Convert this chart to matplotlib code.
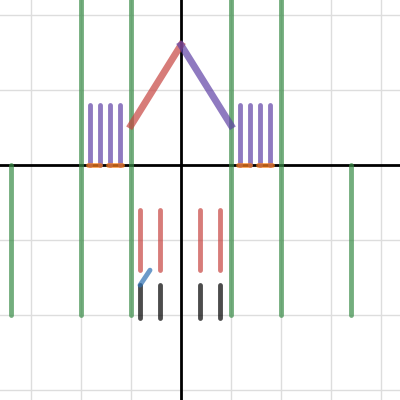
import matplotlib
matplotlib.use("Agg")
import matplotlib.pyplot as plt

green_x = [-2, -1, 1, 2, -3.4, 3.4]
green_y0 = [-2, -2, -2, -2, -2, -2]
green_y1 = [2.3, 2.3, 2.3, 2.3, 0, 0]
roof_red = ([-1, 0], [0.53, 1.6])
roof_purple = ([0, 1], [1.6, 0.53])
purple_x = [-1.82, -1.62, -1.42, -1.22, 1.18, 1.38, 1.58, 1.78]
purple_top = 0.8
orange_segs = [(-1.86, -1.62), (-1.46, -1.18), (1.14, 1.38), (1.54, 1.82)]
red_x = [-0.82, -0.42, 0.38, 0.78]
red_y = (-0.6, -1.4)
black_y = (-1.6, -2.04)
blue = ([-0.82, -0.62], [-1.6, -1.4])

fig = plt.figure(figsize=(4, 4), dpi=100)
ax = fig.add_axes([0, 0, 1, 1])
ax.set_xlim(-3.62, 4.38)
ax.set_ylim(-3.13, 2.2)
for x in range(-4, 5):
    ax.axvline(x, color='#dddddd', lw=1, zorder=0)
for y in range(-4, 3):
    ax.axhline(y, color='#dddddd', lw=1, zorder=0)
ax.axvline(0, color='black', lw=2, zorder=1)
ax.axhline(0, color='black', lw=2, zorder=1)

G, R, P, O, B, K = '#388c46', '#c74440', '#6042a6', '#fa7e19', '#2d70b3', '#000000'
kw = dict(lw=3.5, alpha=0.7, solid_capstyle='round', zorder=3)
for x, a, b in zip(green_x, green_y0, green_y1):
    ax.plot([x, x], [a, b], color=G, **kw)
ax.plot(*roof_red, color=R, lw=5, alpha=0.7, zorder=3)
ax.plot(*roof_purple, color=P, lw=5, alpha=0.7, zorder=3)
for x in purple_x:
    ax.plot([x, x], [0, purple_top], color=P, **kw)
for a, b in orange_segs:
    ax.plot([a, b], [0, 0], color=O, **kw)
for x in red_x:
    ax.plot([x, x], red_y, color=R, **kw)
    ax.plot([x, x], black_y, color=K, **kw)
ax.plot(*blue, color=B, **kw)
ax.axis('off')
fig.savefig('out.png', dpi=100)
